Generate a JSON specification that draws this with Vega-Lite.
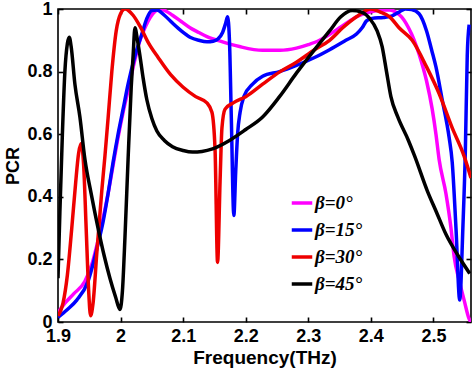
{
  "$schema": "https://vega.github.io/schema/vega-lite/v6.json",
  "width": 413,
  "height": 313,
  "autosize": {"type": "none"},
  "padding": {"left": 58, "top": 9, "right": 3, "bottom": 58},
  "background": "white",
  "config": {
    "view": {"stroke": "black", "strokeWidth": 1.6},
    "axis": {
      "domain": false,
      "grid": false,
      "labelFlush": false,
      "labelOverlap": false,
      "tickColor": "black",
      "tickSize": -5,
      "tickWidth": 1.6,
      "labelFont": "Liberation Sans",
      "labelFontWeight": "bold",
      "labelFontSize": 18,
      "labelColor": "black",
      "titleFont": "Liberation Sans",
      "titleFontWeight": "bold",
      "titleFontSize": 19,
      "titleColor": "black"
    }
  },
  "data": {"values": [
    {"f":1.9,"pcr":0.03,"beta":"β=0°"},{"f":1.911,"pcr":0.06,"beta":"β=0°"},{"f":1.925,"pcr":0.09,"beta":"β=0°"},{"f":1.943,"pcr":0.13,"beta":"β=0°"},{"f":1.955,"pcr":0.19,"beta":"β=0°"},{"f":1.964,"pcr":0.26,"beta":"β=0°"},{"f":1.972,"pcr":0.33,"beta":"β=0°"},{"f":1.98,"pcr":0.41,"beta":"β=0°"},{"f":1.988,"pcr":0.5,"beta":"β=0°"},{"f":1.996,"pcr":0.59,"beta":"β=0°"},{"f":2.004,"pcr":0.67,"beta":"β=0°"},{"f":2.012,"pcr":0.74,"beta":"β=0°"},{"f":2.022,"pcr":0.83,"beta":"β=0°"},{"f":2.031,"pcr":0.9,"beta":"β=0°"},{"f":2.04,"pcr":0.945,"beta":"β=0°"},{"f":2.047,"pcr":0.972,"beta":"β=0°"},{"f":2.055,"pcr":0.992,"beta":"β=0°"},{"f":2.063,"pcr":1.0,"beta":"β=0°"},{"f":2.073,"pcr":0.993,"beta":"β=0°"},{"f":2.083,"pcr":0.98,"beta":"β=0°"},{"f":2.097,"pcr":0.96,"beta":"β=0°"},{"f":2.111,"pcr":0.94,"beta":"β=0°"},{"f":2.125,"pcr":0.925,"beta":"β=0°"},{"f":2.138,"pcr":0.912,"beta":"β=0°"},{"f":2.163,"pcr":0.895,"beta":"β=0°"},{"f":2.19,"pcr":0.88,"beta":"β=0°"},{"f":2.227,"pcr":0.868,"beta":"β=0°"},{"f":2.255,"pcr":0.868,"beta":"β=0°"},{"f":2.281,"pcr":0.875,"beta":"β=0°"},{"f":2.3,"pcr":0.886,"beta":"β=0°"},{"f":2.318,"pcr":0.9,"beta":"β=0°"},{"f":2.335,"pcr":0.92,"beta":"β=0°"},{"f":2.35,"pcr":0.94,"beta":"β=0°"},{"f":2.365,"pcr":0.96,"beta":"β=0°"},{"f":2.377,"pcr":0.975,"beta":"β=0°"},{"f":2.398,"pcr":0.99,"beta":"β=0°"},{"f":2.418,"pcr":0.997,"beta":"β=0°"},{"f":2.43,"pcr":0.997,"beta":"β=0°"},{"f":2.44,"pcr":0.99,"beta":"β=0°"},{"f":2.449,"pcr":0.975,"beta":"β=0°"},{"f":2.456,"pcr":0.955,"beta":"β=0°"},{"f":2.465,"pcr":0.92,"beta":"β=0°"},{"f":2.473,"pcr":0.88,"beta":"β=0°"},{"f":2.481,"pcr":0.83,"beta":"β=0°"},{"f":2.489,"pcr":0.77,"beta":"β=0°"},{"f":2.498,"pcr":0.68,"beta":"β=0°"},{"f":2.504,"pcr":0.6,"beta":"β=0°"},{"f":2.509,"pcr":0.52,"beta":"β=0°"},{"f":2.52,"pcr":0.41,"beta":"β=0°"},{"f":2.528,"pcr":0.3,"beta":"β=0°"},{"f":2.533,"pcr":0.21,"beta":"β=0°"},{"f":2.541,"pcr":0.134,"beta":"β=0°"},{"f":2.549,"pcr":0.07,"beta":"β=0°"},{"f":2.557,"pcr":0.01,"beta":"β=0°"},{"f":2.56,"pcr":0.0,"beta":"β=0°"},

    {"f":1.9,"pcr":0.015,"beta":"β=15°"},{"f":1.915,"pcr":0.04,"beta":"β=15°"},{"f":1.93,"pcr":0.07,"beta":"β=15°"},{"f":1.948,"pcr":0.13,"beta":"β=15°"},{"f":1.964,"pcr":0.25,"beta":"β=15°"},{"f":1.972,"pcr":0.32,"beta":"β=15°"},{"f":1.98,"pcr":0.41,"beta":"β=15°"},{"f":1.988,"pcr":0.51,"beta":"β=15°"},{"f":1.996,"pcr":0.6,"beta":"β=15°"},{"f":2.004,"pcr":0.68,"beta":"β=15°"},{"f":2.012,"pcr":0.76,"beta":"β=15°"},{"f":2.023,"pcr":0.85,"beta":"β=15°"},{"f":2.034,"pcr":0.92,"beta":"β=15°"},{"f":2.042,"pcr":0.97,"beta":"β=15°"},{"f":2.05,"pcr":0.995,"beta":"β=15°"},{"f":2.058,"pcr":0.997,"beta":"β=15°"},{"f":2.07,"pcr":0.98,"beta":"β=15°"},{"f":2.083,"pcr":0.955,"beta":"β=15°"},{"f":2.097,"pcr":0.93,"beta":"β=15°"},{"f":2.111,"pcr":0.91,"beta":"β=15°"},{"f":2.125,"pcr":0.9,"beta":"β=15°"},{"f":2.138,"pcr":0.895,"beta":"β=15°"},{"f":2.148,"pcr":0.897,"beta":"β=15°"},{"f":2.156,"pcr":0.905,"beta":"β=15°"},{"f":2.163,"pcr":0.925,"beta":"β=15°"},{"f":2.168,"pcr":0.955,"beta":"β=15°"},{"f":2.171,"pcr":0.975,"beta":"β=15°"},{"f":2.174,"pcr":0.9,"beta":"β=15°"},{"f":2.177,"pcr":0.65,"beta":"β=15°"},{"f":2.181,"pcr":0.34,"beta":"β=15°"},{"f":2.184,"pcr":0.48,"beta":"β=15°"},{"f":2.187,"pcr":0.6,"beta":"β=15°"},{"f":2.191,"pcr":0.67,"beta":"β=15°"},{"f":2.197,"pcr":0.72,"beta":"β=15°"},{"f":2.211,"pcr":0.76,"beta":"β=15°"},{"f":2.227,"pcr":0.785,"beta":"β=15°"},{"f":2.254,"pcr":0.8,"beta":"β=15°"},{"f":2.281,"pcr":0.82,"beta":"β=15°"},{"f":2.31,"pcr":0.845,"beta":"β=15°"},{"f":2.334,"pcr":0.87,"beta":"β=15°"},{"f":2.36,"pcr":0.9,"beta":"β=15°"},{"f":2.377,"pcr":0.92,"beta":"β=15°"},{"f":2.386,"pcr":0.94,"beta":"β=15°"},{"f":2.393,"pcr":0.962,"beta":"β=15°"},{"f":2.402,"pcr":0.97,"beta":"β=15°"},{"f":2.42,"pcr":0.973,"beta":"β=15°"},{"f":2.434,"pcr":0.978,"beta":"β=15°"},{"f":2.445,"pcr":0.99,"beta":"β=15°"},{"f":2.455,"pcr":1.0,"beta":"β=15°"},{"f":2.465,"pcr":0.998,"beta":"β=15°"},{"f":2.477,"pcr":0.985,"beta":"β=15°"},{"f":2.489,"pcr":0.93,"beta":"β=15°"},{"f":2.497,"pcr":0.87,"beta":"β=15°"},{"f":2.504,"pcr":0.815,"beta":"β=15°"},{"f":2.514,"pcr":0.71,"beta":"β=15°"},{"f":2.525,"pcr":0.59,"beta":"β=15°"},{"f":2.53,"pcr":0.51,"beta":"β=15°"},{"f":2.536,"pcr":0.3,"beta":"β=15°"},{"f":2.542,"pcr":0.07,"beta":"β=15°"},{"f":2.547,"pcr":0.3,"beta":"β=15°"},{"f":2.551,"pcr":0.55,"beta":"β=15°"},{"f":2.554,"pcr":0.85,"beta":"β=15°"},{"f":2.557,"pcr":0.95,"beta":"β=15°"},

    {"f":1.9,"pcr":0.02,"beta":"β=30°"},{"f":1.908,"pcr":0.06,"beta":"β=30°"},{"f":1.915,"pcr":0.15,"beta":"β=30°"},{"f":1.922,"pcr":0.3,"beta":"β=30°"},{"f":1.928,"pcr":0.44,"beta":"β=30°"},{"f":1.933,"pcr":0.54,"beta":"β=30°"},{"f":1.937,"pcr":0.57,"beta":"β=30°"},{"f":1.941,"pcr":0.5,"beta":"β=30°"},{"f":1.945,"pcr":0.3,"beta":"β=30°"},{"f":1.949,"pcr":0.1,"beta":"β=30°"},{"f":1.952,"pcr":0.02,"beta":"β=30°"},{"f":1.956,"pcr":0.06,"beta":"β=30°"},{"f":1.962,"pcr":0.22,"beta":"β=30°"},{"f":1.97,"pcr":0.42,"beta":"β=30°"},{"f":1.975,"pcr":0.53,"beta":"β=30°"},{"f":1.98,"pcr":0.65,"beta":"β=30°"},{"f":1.986,"pcr":0.8,"beta":"β=30°"},{"f":1.993,"pcr":0.93,"beta":"β=30°"},{"f":2.0,"pcr":0.985,"beta":"β=30°"},{"f":2.007,"pcr":1.0,"beta":"β=30°"},{"f":2.02,"pcr":0.98,"beta":"β=30°"},{"f":2.031,"pcr":0.945,"beta":"β=30°"},{"f":2.045,"pcr":0.89,"beta":"β=30°"},{"f":2.06,"pcr":0.845,"beta":"β=30°"},{"f":2.08,"pcr":0.79,"beta":"β=30°"},{"f":2.1,"pcr":0.75,"beta":"β=30°"},{"f":2.12,"pcr":0.72,"beta":"β=30°"},{"f":2.138,"pcr":0.7,"beta":"β=30°"},{"f":2.146,"pcr":0.67,"beta":"β=30°"},{"f":2.151,"pcr":0.55,"beta":"β=30°"},{"f":2.155,"pcr":0.19,"beta":"β=30°"},{"f":2.159,"pcr":0.45,"beta":"β=30°"},{"f":2.162,"pcr":0.62,"beta":"β=30°"},{"f":2.167,"pcr":0.68,"beta":"β=30°"},{"f":2.18,"pcr":0.7,"beta":"β=30°"},{"f":2.2,"pcr":0.72,"beta":"β=30°"},{"f":2.227,"pcr":0.76,"beta":"β=30°"},{"f":2.255,"pcr":0.8,"beta":"β=30°"},{"f":2.281,"pcr":0.83,"beta":"β=30°"},{"f":2.31,"pcr":0.87,"beta":"β=30°"},{"f":2.334,"pcr":0.9,"beta":"β=30°"},{"f":2.355,"pcr":0.94,"beta":"β=30°"},{"f":2.377,"pcr":0.975,"beta":"β=30°"},{"f":2.4,"pcr":1.0,"beta":"β=30°"},{"f":2.415,"pcr":0.99,"beta":"β=30°"},{"f":2.43,"pcr":0.975,"beta":"β=30°"},{"f":2.445,"pcr":0.94,"beta":"β=30°"},{"f":2.466,"pcr":0.9,"beta":"β=30°"},{"f":2.489,"pcr":0.815,"beta":"β=30°"},{"f":2.509,"pcr":0.73,"beta":"β=30°"},{"f":2.53,"pcr":0.62,"beta":"β=30°"},{"f":2.549,"pcr":0.53,"beta":"β=30°"},{"f":2.56,"pcr":0.46,"beta":"β=30°"},

    {"f":1.9,"pcr":0.14,"beta":"β=45°"},{"f":1.903,"pcr":0.35,"beta":"β=45°"},{"f":1.907,"pcr":0.6,"beta":"β=45°"},{"f":1.911,"pcr":0.8,"beta":"β=45°"},{"f":1.915,"pcr":0.89,"beta":"β=45°"},{"f":1.918,"pcr":0.91,"beta":"β=45°"},{"f":1.921,"pcr":0.88,"beta":"β=45°"},{"f":1.927,"pcr":0.76,"beta":"β=45°"},{"f":1.935,"pcr":0.655,"beta":"β=45°"},{"f":1.943,"pcr":0.52,"beta":"β=45°"},{"f":1.953,"pcr":0.41,"beta":"β=45°"},{"f":1.964,"pcr":0.3,"beta":"β=45°"},{"f":1.974,"pcr":0.21,"beta":"β=45°"},{"f":1.983,"pcr":0.14,"beta":"β=45°"},{"f":1.992,"pcr":0.08,"beta":"β=45°"},{"f":1.999,"pcr":0.04,"beta":"β=45°"},{"f":2.003,"pcr":0.1,"beta":"β=45°"},{"f":2.007,"pcr":0.27,"beta":"β=45°"},{"f":2.012,"pcr":0.52,"beta":"β=45°"},{"f":2.017,"pcr":0.75,"beta":"β=45°"},{"f":2.02,"pcr":0.85,"beta":"β=45°"},{"f":2.023,"pcr":0.94,"beta":"β=45°"},{"f":2.027,"pcr":0.9,"beta":"β=45°"},{"f":2.031,"pcr":0.85,"beta":"β=45°"},{"f":2.036,"pcr":0.78,"beta":"β=45°"},{"f":2.042,"pcr":0.71,"beta":"β=45°"},{"f":2.05,"pcr":0.65,"beta":"β=45°"},{"f":2.058,"pcr":0.61,"beta":"β=45°"},{"f":2.07,"pcr":0.58,"beta":"β=45°"},{"f":2.083,"pcr":0.56,"beta":"β=45°"},{"f":2.1,"pcr":0.548,"beta":"β=45°"},{"f":2.115,"pcr":0.543,"beta":"β=45°"},{"f":2.13,"pcr":0.545,"beta":"β=45°"},{"f":2.147,"pcr":0.553,"beta":"β=45°"},{"f":2.174,"pcr":0.58,"beta":"β=45°"},{"f":2.2,"pcr":0.615,"beta":"β=45°"},{"f":2.227,"pcr":0.655,"beta":"β=45°"},{"f":2.254,"pcr":0.72,"beta":"β=45°"},{"f":2.281,"pcr":0.795,"beta":"β=45°"},{"f":2.31,"pcr":0.87,"beta":"β=45°"},{"f":2.334,"pcr":0.93,"beta":"β=45°"},{"f":2.352,"pcr":0.975,"beta":"β=45°"},{"f":2.37,"pcr":0.995,"beta":"β=45°"},{"f":2.385,"pcr":0.99,"beta":"β=45°"},{"f":2.398,"pcr":0.97,"beta":"β=45°"},{"f":2.41,"pcr":0.93,"beta":"β=45°"},{"f":2.418,"pcr":0.88,"beta":"β=45°"},{"f":2.425,"pcr":0.8,"beta":"β=45°"},{"f":2.432,"pcr":0.72,"beta":"β=45°"},{"f":2.443,"pcr":0.655,"beta":"β=45°"},{"f":2.46,"pcr":0.58,"beta":"β=45°"},{"f":2.47,"pcr":0.53,"beta":"β=45°"},{"f":2.49,"pcr":0.42,"beta":"β=45°"},{"f":2.505,"pcr":0.35,"beta":"β=45°"},{"f":2.52,"pcr":0.28,"beta":"β=45°"},{"f":2.54,"pcr":0.21,"beta":"β=45°"},{"f":2.558,"pcr":0.155,"beta":"β=45°"}
  ]},
  "resolve": {"axis": {"x": "independent", "y": "independent"}},
  "layer": [
    {
      "mark": {"type": "line", "strokeWidth": 3.5, "clip": true, "interpolate": "monotone"},
      "encoding": {
        "x": {"field": "f", "type": "quantitative",
              "scale": {"domain": [1.9, 2.56], "nice": false, "zero": false},
              "axis": {"orient": "bottom", "title": "Frequency(THz)", "values": [1.9, 2, 2.1, 2.2, 2.3, 2.4, 2.5], "format": "~g", "labelPadding": 10, "titlePadding": 3}},
        "y": {"field": "pcr", "type": "quantitative",
              "scale": {"domain": [0, 1], "nice": false},
              "axis": {"orient": "left", "title": "PCR", "titleFontSize": 18, "values": [0, 0.2, 0.4, 0.6, 0.8, 1], "format": "~g", "labelPadding": 11, "titlePadding": 4}},
        "color": {"field": "beta", "type": "nominal",
                  "scale": {"domain": ["β=0°", "β=15°", "β=30°", "β=45°"], "range": ["#FF00FF", "#0000FF", "#EE0000", "#000000"]},
                  "legend": {"orient": "none", "legendX": 232, "legendY": 182, "title": null,
                             "symbolType": "stroke", "symbolStrokeWidth": 3.5, "symbolSize": 420,
                             "labelFont": "Liberation Serif", "labelFontStyle": "italic", "labelFontWeight": "bold",
                             "labelFontSize": 19, "labelColor": "black", "labelOffset": 1, "rowPadding": 5, "padding": 0}},
        "order": {"field": "f", "type": "quantitative"}
      }
    },
    {
      "mark": {"type": "line", "opacity": 0},
      "encoding": {
        "x": {"field": "f", "type": "quantitative",
              "axis": {"orient": "top", "title": null, "labels": false, "values": [1.9, 2, 2.1, 2.2, 2.3, 2.4, 2.5]}},
        "y": {"field": "pcr", "type": "quantitative",
              "axis": {"orient": "right", "title": null, "labels": false, "values": [0, 0.2, 0.4, 0.6, 0.8, 1]}},
        "detail": {"field": "beta", "type": "nominal"}
      }
    }
  ]
}
